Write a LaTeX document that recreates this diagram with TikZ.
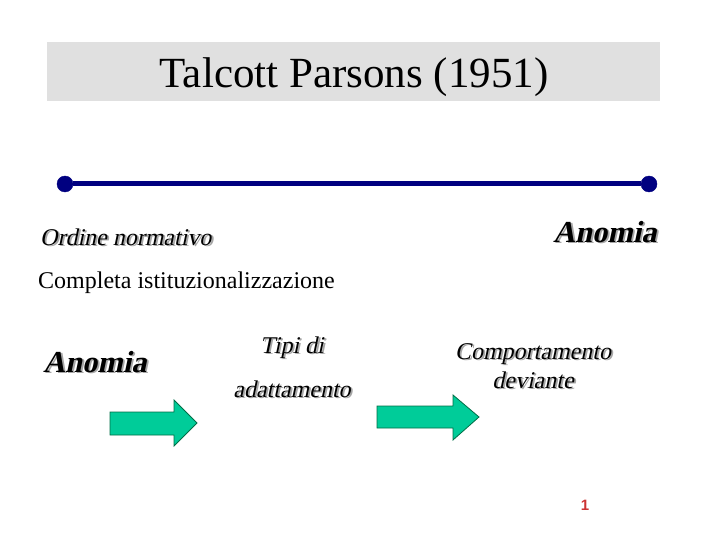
\documentclass[tikz,border=0pt]{standalone}
\usepackage{fontspec}
\setmainfont{Liberation Serif}[
  ItalicFont={Liberation Serif},
  ItalicFeatures={FakeSlant=0.21},
  BoldFont={Liberation Serif Bold},
  BoldItalicFont={Liberation Serif Bold},
  BoldItalicFeatures={FakeSlant=0.21}]
\setsansfont{Liberation Sans}
\usetikzlibrary{positioning}
\definecolor{navyline}{RGB}{0,0,128}
\definecolor{arrowgreen}{RGB}{0,204,153}
\definecolor{arrowedge}{RGB}{0,110,70}
\definecolor{marble}{RGB}{224,224,224}
\definecolor{pagered}{RGB}{204,51,51}
% gray copy behind the text
\newcommand{\shtxt}[1]{\rlap{\kern1.8pt\raisebox{-1.8pt}{\textcolor{black!35}{#1}}}#1}
\begin{document}
\begin{tikzpicture}[x=1pt,y=-1pt]
      \tikzset{enclosed/.style={draw=navyline, circle, inner sep=0pt, minimum size=16pt, fill=navyline}}
      \tikzset{blockarrow/.style={fill=arrowgreen, draw=arrowedge, line width=0.8pt, line join=miter}}
      \tikzset{slidetext/.style={inner sep=0pt, font=\fontsize{24}{28}\selectfont\itshape}}
      \tikzset{bigword/.style={inner sep=0pt, font=\fontsize{30.5}{34}\selectfont\bfseries\itshape}}
      \useasboundingbox (0,0) rectangle (720,540);
%% Title
	% band
		\fill[marble] (47,42) rectangle (660,101);
		\node[inner sep=0pt, anchor=base, font=\fontsize{43}{48}\selectfont] (title) at (354,88) {Talcott Parsons (1951)};
%% Vertices
	% line ends
      	\node[enclosed] (d1) at (65,184) {};
     	\node[enclosed] (d2) at (649,184) {};
%Edges
		\path [line width=5pt, navyline] (d1) edge (d2);
%% Labels
		\node[bigword, anchor=base west] (anomR) at (553,242) {\shtxt{Anomia}};
		\node[slidetext, anchor=base west] (ordine) at (40,245) {\shtxt{Ordine normativo}};
		\node[inner sep=0pt, anchor=base west, font=\fontsize{24}{28}\selectfont] (compl) at (38,288) {Completa istituzionalizzazione};
		\node[bigword, anchor=base west] (anomL) at (43,372) {\shtxt{Anomia}};
		\node[slidetext, anchor=base] (tipi) at (292,353) {\shtxt{Tipi di}};
		\node[slidetext, anchor=base] (adatt) at (292,397) {\shtxt{adattamento}};
		\node[slidetext, anchor=base] (comp) at (533,359) {\shtxt{Comportamento}};
		\node[slidetext, anchor=base] (dev) at (533,388) {\shtxt{deviante}};
%% Block arrows
		\draw[blockarrow] (110,412) -- (174,412) -- (174,400) -- (197,423) -- (174,446) -- (174,435) -- (110,435) -- cycle;
		\draw[blockarrow] (377,406) -- (453,406) -- (453,395) -- (479,417) -- (453,440) -- (453,428) -- (377,428) -- cycle;
%% Page number
		\node[inner sep=0pt, text=pagered, font=\sffamily\bfseries\fontsize{15}{17}\selectfont] (pnum) at (585,505) {1};
\end{tikzpicture}
\end{document}
